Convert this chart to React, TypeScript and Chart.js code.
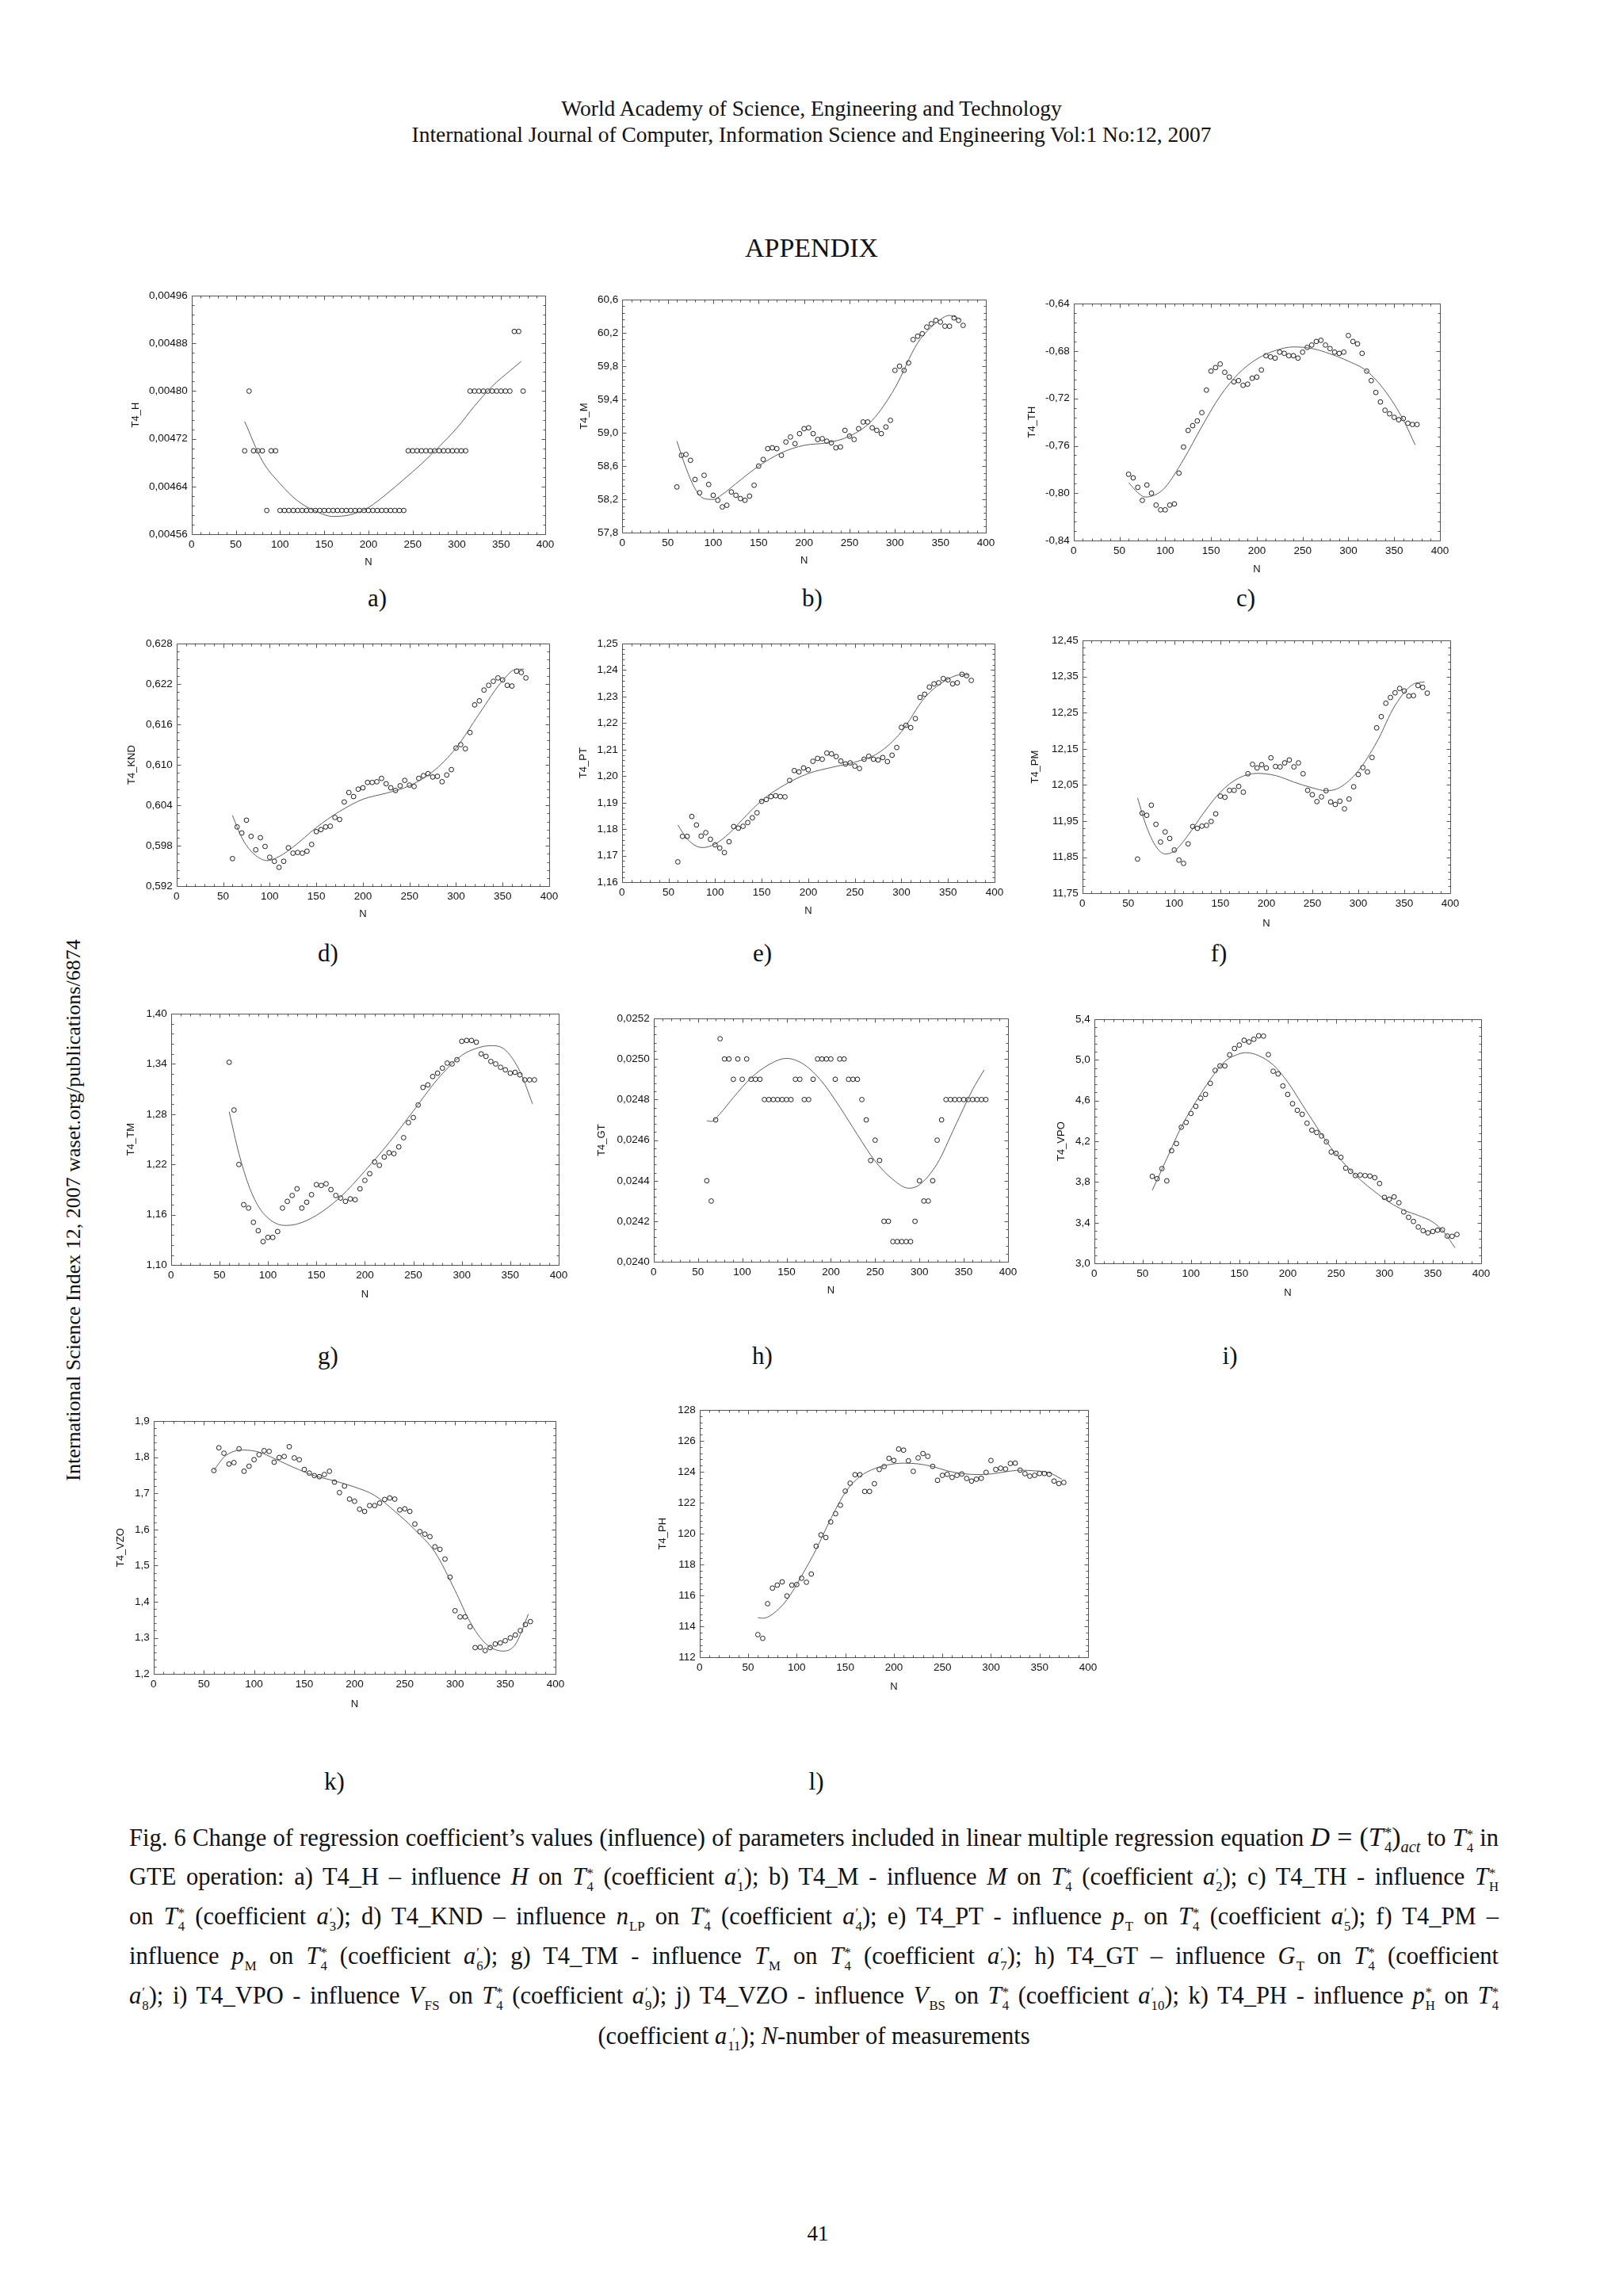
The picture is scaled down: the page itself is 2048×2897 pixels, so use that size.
import React, { useEffect, useRef } from 'react';
import { Chart, registerables } from 'chart.js';

Chart.register(...registerables);

// ---------------- data ----------------
const N_VALUES = [60, 65, 70, 75, 80, 85, 90, 95, 100, 105, 110, 115, 120, 125, 130, 135, 140, 145, 150, 155, 160, 165, 170, 175, 180, 185, 190, 195, 200, 205, 210, 215, 220, 225, 230, 235, 240, 245, 250, 255, 260, 265, 270, 275, 280, 285, 290, 295, 300, 305, 310, 315, 320, 325, 330, 335, 340, 345, 350, 355, 360, 365, 370, 375];
const X_TICKS = [0, 50, 100, 150, 200, 250, 300, 350, 400];

const A_TICKS = [0.00456, 0.00464, 0.00472, 0.0048, 0.00488, 0.00496];
const A_Y = [0.0047, 0.0048, 0.0047, 0.0047, 0.0047, 0.0046, 0.0047, 0.0047,
  0.0046, 0.0046, 0.0046, 0.0046, 0.0046, 0.0046, 0.0046, 0.0046, 0.0046, 0.0046, 0.0046, 0.0046, 0.0046, 0.0046, 0.0046, 0.0046, 0.0046, 0.0046, 0.0046, 0.0046, 0.0046, 0.0046, 0.0046, 0.0046, 0.0046, 0.0046, 0.0046, 0.0046, 0.0046,
  0.0047, 0.0047, 0.0047, 0.0047, 0.0047, 0.0047, 0.0047, 0.0047, 0.0047, 0.0047, 0.0047, 0.0047, 0.0047, 0.0047,
  0.0048, 0.0048, 0.0048, 0.0048, 0.0048, 0.0048, 0.0048, 0.0048, 0.0048, 0.0048,
  0.0049, 0.0049, 0.0048];
const A_CX = [60, 80, 100, 120, 140, 160, 180, 200, 220, 240, 260, 280, 300, 320, 340, 360, 373];
const A_CY = [0.004749, 0.004683, 0.004645, 0.004616, 0.004599, 0.00459, 0.004593, 0.004605, 0.004627, 0.004652, 0.004678, 0.004707, 0.004738, 0.004775, 0.004808, 0.004834, 0.00485];

const B_TICKS = [57.8, 58.2, 58.6, 59.0, 59.4, 59.8, 60.2, 60.6];
const B_Y = [58.35, 58.73, 58.74, 58.67, 58.44, 58.28, 58.49, 58.38, 58.25, 58.19, 58.11, 58.13, 58.29, 58.25, 58.21, 58.19, 58.24, 58.37, 58.6, 58.68, 58.81, 58.82, 58.81, 58.73, 58.89, 58.95, 58.87, 58.99, 59.05, 59.06, 58.99, 58.92, 58.93, 58.9, 58.88, 58.82, 58.83, 59.03, 58.96, 58.92, 59.05, 59.13, 59.13, 59.06, 59.03, 58.99, 59.07, 59.15, 59.75, 59.8, 59.75, 59.84, 60.12, 60.16, 60.19, 60.27, 60.31, 60.35, 60.33, 60.28, 60.28, 60.38, 60.35, 60.29];
const B_CX = [60, 70, 80, 90, 100, 110, 125, 150, 175, 200, 225, 250, 275, 300, 325, 350, 360, 373];
const B_CY = [58.9, 58.58, 58.33, 58.21, 58.2, 58.26, 58.39, 58.6, 58.76, 58.85, 58.88, 58.96, 59.15, 59.54, 60.08, 60.36, 60.41, 60.36];

const C_TICKS = [-0.84, -0.8, -0.76, -0.72, -0.68, -0.64];
const C_Y = [-0.784, -0.787, -0.795, -0.806, -0.793, -0.8, -0.81, -0.814, -0.814, -0.81, -0.809,
  -0.783, -0.761, -0.747, -0.743, -0.739, -0.732, -0.713, -0.697, -0.694, -0.691, -0.698, -0.702, -0.706,
  -0.705, -0.709, -0.708, -0.703, -0.702, -0.696, -0.684, -0.685, -0.686, -0.681, -0.682, -0.684, -0.684,
  -0.686, -0.681, -0.677, -0.675, -0.672, -0.671, -0.675, -0.678, -0.681, -0.682, -0.681, -0.667, -0.672,
  -0.674, -0.682, -0.697, -0.705, -0.715, -0.723, -0.73, -0.733, -0.736, -0.738, -0.737, -0.741, -0.742, -0.742];
const C_CX = [60, 70, 78, 90, 100, 120, 140, 160, 180, 200, 220, 240, 260, 280, 300, 320, 340, 360, 373];
const C_CY = [-0.791, -0.7994, -0.8032, -0.801, -0.795, -0.7716, -0.7437, -0.718, -0.6991, -0.6868, -0.6797, -0.6766, -0.6779, -0.6824, -0.6886, -0.6969, -0.7136, -0.7381, -0.7593];

const D_TICKS = [0.592, 0.598, 0.604, 0.61, 0.616, 0.622, 0.628];
const D_Y = [0.5961, 0.6008, 0.5999, 0.6018, 0.5994, 0.5974, 0.5992, 0.5979, 0.5963, 0.5957, 0.5948,
  0.5957, 0.5977, 0.5969, 0.597, 0.5969, 0.5972, 0.5982, 0.6001, 0.6004, 0.6008, 0.6009, 0.6022, 0.6019,
  0.6045, 0.6059, 0.6053, 0.6064, 0.6066, 0.6074, 0.6074, 0.6075, 0.608, 0.6072, 0.6066, 0.6062, 0.6069,
  0.6077, 0.607, 0.6068, 0.608, 0.6084, 0.6087, 0.6082, 0.6083, 0.6075, 0.6085, 0.6093, 0.6125, 0.613,
  0.6124, 0.6148, 0.6189, 0.6195, 0.6211, 0.6218, 0.6224, 0.6229, 0.6226, 0.6218, 0.6217, 0.6239, 0.6237, 0.6229];
const D_CX = [60, 70, 80, 90, 97, 110, 125, 150, 175, 200, 225, 250, 275, 300, 325, 350, 365, 373];
const D_CY = [0.6025, 0.5992, 0.5972, 0.5961, 0.5958, 0.5964, 0.5978, 0.6007, 0.6031, 0.6049, 0.6058, 0.6069, 0.609, 0.6125, 0.6176, 0.6225, 0.6242, 0.6242];

const E_TICKS = [1.16, 1.17, 1.18, 1.19, 1.2, 1.21, 1.22, 1.23, 1.24, 1.25];
const E_Y = [1.1677, 1.1773, 1.1773, 1.1848, 1.1816, 1.1774, 1.1787, 1.1762, 1.1741, 1.1729, 1.1712,
  1.1753, 1.181, 1.1804, 1.1811, 1.1825, 1.1843, 1.1862, 1.1905, 1.1912, 1.1923, 1.1926, 1.1923, 1.1922,
  1.1984, 1.2021, 1.2016, 1.2031, 1.2024, 1.2056, 1.2067, 1.2064, 1.2087, 1.2084, 1.2074, 1.2057, 1.2046,
  1.205, 1.2038, 1.2029, 1.2064, 1.2075, 1.2064, 1.2061, 1.207, 1.2055, 1.2079, 1.2108, 1.2184, 1.2192,
  1.2183, 1.2217, 1.2297, 1.2309, 1.2336, 1.2348, 1.2352, 1.2368, 1.2363, 1.2348, 1.2352, 1.2384, 1.2379, 1.2361];
const E_CX = [60, 70, 80, 87, 100, 115, 130, 150, 175, 200, 225, 250, 275, 300, 325, 350, 365, 373];
const E_CY = [1.1816, 1.1764, 1.1736, 1.1731, 1.1744, 1.1784, 1.1839, 1.1908, 1.1968, 1.201, 1.2033, 1.2053, 1.2087, 1.2167, 1.2296, 1.2366, 1.2383, 1.2381];

const F_TICKS = [11.75, 11.85, 11.95, 12.05, 12.15, 12.25, 12.35, 12.45];
const F_Y = [11.845, 11.972, 11.966, 11.994, 11.941, 11.892, 11.92, 11.902, 11.87, 11.842, 11.833,
  11.887, 11.935, 11.93, 11.936, 11.938, 11.949, 11.97, 12.019, 12.016, 12.035, 12.035, 12.046, 12.03,
  12.081, 12.107, 12.097, 12.106, 12.097, 12.125, 12.101, 12.1, 12.111, 12.119, 12.1, 12.111, 12.081,
  12.035, 12.023, 12.004, 12.017, 12.034, 12.003, 11.996, 12.005, 11.984, 12.011, 12.045, 12.079, 12.098,
  12.086, 12.126, 12.208, 12.239, 12.276, 12.292, 12.305, 12.317, 12.31, 12.296, 12.297, 12.325, 12.32, 12.304];
const F_CX = [60, 70, 80, 90, 100, 115, 130, 150, 170, 190, 210, 230, 250, 265, 280, 300, 320, 340, 360, 372];
const F_CY = [12.014, 11.933, 11.88, 11.859, 11.867, 11.911, 11.966, 12.03, 12.069, 12.082, 12.076, 12.058, 12.042, 12.034, 12.043, 12.089, 12.168, 12.27, 12.329, 12.335];

const G_TICKS = [1.1, 1.16, 1.22, 1.28, 1.34, 1.4];
const G_Y = [1.342, 1.285, 1.22, 1.172, 1.168, 1.151, 1.141, 1.128, 1.133, 1.133, 1.14,
  1.168, 1.176, 1.183, 1.191, 1.168, 1.175, 1.184, 1.196, 1.195, 1.197, 1.19, 1.183, 1.18,
  1.176, 1.179, 1.178, 1.191, 1.201, 1.209, 1.223, 1.219, 1.229, 1.234, 1.233, 1.241, 1.252,
  1.27, 1.276, 1.291, 1.312, 1.315, 1.325, 1.329, 1.335, 1.341, 1.34, 1.345, 1.367, 1.368,
  1.368, 1.366, 1.352, 1.349, 1.343, 1.34, 1.336, 1.333, 1.329, 1.33, 1.327, 1.321, 1.321, 1.321];
const G_CX = [60, 70, 80, 90, 100, 110, 118, 130, 150, 175, 200, 225, 250, 275, 300, 320, 332, 345, 360, 373];
const G_CY = [1.283, 1.2334, 1.1956, 1.1703, 1.1562, 1.1489, 1.1473, 1.1489, 1.1593, 1.1814, 1.2123, 1.2461, 1.2839, 1.3218, 1.3502, 1.3603, 1.3618, 1.3565, 1.3312, 1.2924];

const H_TICKS = [0.024, 0.0242, 0.0244, 0.0246, 0.0248, 0.025, 0.0252];
const H_Y = [0.0244, 0.0243, 0.0247, 0.0251, 0.025, 0.025, 0.0249, 0.025, 0.0249, 0.025, 0.0249,
  0.0249, 0.0249, 0.0248, 0.0248, 0.0248, 0.0248, 0.0248, 0.0248, 0.0248, 0.0249, 0.0249, 0.0248, 0.0248,
  0.0249, 0.025, 0.025, 0.025, 0.025, 0.0249, 0.025, 0.025, 0.0249, 0.0249, 0.0249, 0.0248, 0.0247,
  0.0245, 0.0246, 0.0245, 0.0242, 0.0242, 0.0241, 0.0241, 0.0241, 0.0241, 0.0241, 0.0242, 0.0244, 0.0243,
  0.0243, 0.0244, 0.0246, 0.0247, 0.0248, 0.0248, 0.0248, 0.0248, 0.0248, 0.0248, 0.0248, 0.0248, 0.0248, 0.0248];
const H_CX = [60, 65, 75, 90, 110, 130, 150, 170, 190, 210, 230, 250, 270, 288, 300, 320, 340, 360, 373];
const H_CY = [0.024696, 0.024692, 0.024731, 0.02481, 0.024907, 0.024972, 0.025003, 0.024972, 0.024888, 0.024764, 0.024627, 0.024497, 0.024406, 0.024363, 0.02438, 0.024484, 0.024666, 0.024849, 0.024946];

const I_TICKS = [3.0, 3.4, 3.8, 4.2, 4.6, 5.0, 5.4];
const I_Y = [3.856, 3.833, 3.932, 3.812, 4.108, 4.178, 4.339, 4.386, 4.474, 4.544, 4.624,
  4.661, 4.77, 4.897, 4.941, 4.941, 5.05, 5.112, 5.146, 5.193, 5.177, 5.203, 5.237, 5.234,
  5.052, 4.889, 4.863, 4.744, 4.661, 4.57, 4.505, 4.466, 4.378, 4.31, 4.287, 4.253, 4.196,
  4.095, 4.082, 4.043, 3.937, 3.906, 3.864, 3.869, 3.864, 3.859, 3.843, 3.786, 3.649, 3.631,
  3.654, 3.597, 3.506, 3.454, 3.413, 3.358, 3.322, 3.301, 3.314, 3.327, 3.33, 3.27, 3.267, 3.285];
const I_CX = [60, 75, 90, 105, 120, 135, 150, 157, 170, 185, 200, 215, 230, 245, 260, 275, 290, 305, 320, 335, 350, 362, 373];
const I_CY = [3.719, 4.03, 4.342, 4.588, 4.809, 4.985, 5.06, 5.071, 5.042, 4.951, 4.783, 4.562, 4.342, 4.134, 3.965, 3.823, 3.706, 3.602, 3.524, 3.472, 3.407, 3.304, 3.153];

const K_TICKS = [1.2, 1.3, 1.4, 1.5, 1.6, 1.7, 1.8, 1.9];
const K_Y = [1.763, 1.826, 1.811, 1.781, 1.785, 1.823, 1.761, 1.775, 1.793, 1.807, 1.818,
  1.816, 1.786, 1.799, 1.802, 1.829, 1.798, 1.793, 1.766, 1.756, 1.749, 1.746, 1.752, 1.761,
  1.731, 1.702, 1.72, 1.684, 1.678, 1.656, 1.65, 1.666, 1.666, 1.673, 1.683, 1.687, 1.684,
  1.654, 1.657, 1.65, 1.615, 1.594, 1.587, 1.58, 1.552, 1.545, 1.518, 1.468, 1.375, 1.358,
  1.358, 1.331, 1.273, 1.274, 1.265, 1.273, 1.283, 1.286, 1.292, 1.3, 1.308, 1.32, 1.337, 1.345];
const K_CX = [60, 70, 80, 90, 105, 120, 140, 160, 180, 200, 220, 240, 260, 280, 300, 315, 330, 348, 360, 373];
const K_CY = [1.7635, 1.8, 1.8161, 1.8197, 1.8139, 1.7964, 1.7708, 1.7489, 1.7343, 1.7175, 1.6942, 1.6504, 1.5993, 1.5372, 1.4314, 1.3438, 1.2854, 1.2635, 1.2818, 1.3657];

const L_TICKS = [112, 114, 116, 118, 120, 122, 124, 126, 128];
const L_Y = [113.47, 113.23, 115.47, 116.48, 116.67, 116.88, 115.97, 116.67, 116.71, 117.12, 116.86,
  117.39, 119.19, 119.92, 119.75, 120.76, 121.29, 121.84, 122.75, 123.26, 123.81, 123.81, 122.73, 122.73,
  123.23, 124.15, 124.34, 124.87, 124.73, 125.47, 125.4, 124.71, 124.03, 124.9, 125.18, 125.0, 124.35,
  123.45, 123.77, 123.84, 123.64, 123.77, 123.86, 123.57, 123.4, 123.52, 123.58, 123.96, 124.73, 124.15,
  124.23, 124.18, 124.54, 124.56, 124.11, 123.88, 123.72, 123.77, 123.89, 123.89, 123.84, 123.4, 123.24, 123.31];
const L_CX = [60, 65, 75, 90, 105, 120, 135, 150, 165, 180, 195, 210, 225, 240, 255, 270, 285, 300, 315, 330, 345, 360, 373];
const L_CY = [114.57, 114.53, 114.79, 115.73, 117.27, 118.98, 120.95, 122.66, 123.69, 124.2, 124.46, 124.56, 124.51, 124.34, 124.06, 123.89, 123.82, 123.86, 124.0, 124.1, 124.06, 123.94, 123.52];

// ---------------- layout / style ----------------
const SANS = '"Liberation Sans", Arial, Helvetica, sans-serif';
const SERIF = '"Liberation Serif", "Times New Roman", Times, serif';
const TICK_FONT = 13.5;
const TITLE_FONT = 13;
const PAD_T = 20;
const PAD_R = 30;

type Panel = {
  title: string; ticks: number[]; dec: number; ys: number[]; cx: number[]; cy: number[];
  rect: [number, number, number, number]; yOff: number; xOff: number;
};

const PANELS: Panel[] = [
  { title: 'T4_H', ticks: A_TICKS, dec: 5, ys: A_Y, cx: A_CX, cy: A_CY, rect: [242, 373, 688, 674], yOff: 70, xOff: 35 },
  { title: 'T4_M', ticks: B_TICKS, dec: 1, ys: B_Y, cx: B_CX, cy: B_CY, rect: [785, 378, 1244, 672], yOff: 47.5, xOff: 35 },
  { title: 'T4_TH', ticks: C_TICKS, dec: 2, ys: C_Y, cx: C_CX, cy: C_CY, rect: [1355, 383, 1817, 682], yOff: 52, xOff: 36 },
  { title: 'T4_KND', ticks: D_TICKS, dec: 3, ys: D_Y, cx: D_CX, cy: D_CY, rect: [223, 812, 693, 1118], yOff: 56, xOff: 35 },
  { title: 'T4_PT', ticks: E_TICKS, dec: 2, ys: E_Y, cx: E_CX, cy: E_CY, rect: [785, 812, 1255, 1113], yOff: 48, xOff: 36 },
  { title: 'T4_PM', ticks: F_TICKS, dec: 2, ys: F_Y, cx: F_CX, cy: F_CY, rect: [1366, 808, 1830, 1127], yOff: 59, xOff: 38 },
  { title: 'T4_TM', ticks: G_TICKS, dec: 2, ys: G_Y, cx: G_CX, cy: G_CY, rect: [216, 1279, 705, 1596], yOff: 50, xOff: 37 },
  { title: 'T4_GT', ticks: H_TICKS, dec: 4, ys: H_Y, cx: H_CX, cy: H_CY, rect: [825, 1285, 1272, 1592], yOff: 65, xOff: 36 },
  { title: 'T4_VPO', ticks: I_TICKS, dec: 1, ys: I_Y, cx: I_CX, cy: I_CY, rect: [1381, 1286, 1869, 1594], yOff: 41, xOff: 37 },
  { title: 'T4_VZO', ticks: K_TICKS, dec: 1, ys: K_Y, cx: K_CX, cy: K_CY, rect: [194, 1793, 701, 2112], yOff: 41, xOff: 38 },
  { title: 'T4_PH', ticks: L_TICKS, dec: 0, ys: L_Y, cx: L_CX, cy: L_CY, rect: [883, 1779, 1373, 2091], yOff: 46, xOff: 37 },
];

const SUB_LABELS: { t: string; x: number; y: number }[] = [
  { t: 'a)', x: 476, y: 755 }, { t: 'b)', x: 1025, y: 755 }, { t: 'c)', x: 1572, y: 755 },
  { t: 'd)', x: 414, y: 1203 }, { t: 'e)', x: 962, y: 1203 }, { t: 'f)', x: 1538, y: 1203 },
  { t: 'g)', x: 414, y: 1711 }, { t: 'h)', x: 962, y: 1711 }, { t: 'i)', x: 1552, y: 1711 },
  { t: 'k)', x: 422, y: 2248 }, { t: 'l)', x: 1030, y: 2248 },
];

const framePlugin = {
  id: 'frameTicks',
  afterDraw(chart: any) {
    const { ctx, chartArea: ca, scales } = chart;
    const xs = scales.x, ys = scales.y;
    const l = Math.round(ca.left) + 0.5, r = Math.round(ca.right) + 0.5;
    const t = Math.round(ca.top) + 0.5, b = Math.round(ca.bottom) + 0.5;
    ctx.save();
    ctx.strokeStyle = '#555';
    ctx.lineWidth = 1;
    ctx.beginPath();
    ctx.rect(l, t, r - l, b - t);
    ctx.stroke();
    ctx.beginPath();
    const xt = xs.ticks.map((k: any) => k.value);
    for (let i = 0; i < xt.length; i++) {
      const p = Math.round(xs.getPixelForValue(xt[i])) + 0.5;
      ctx.moveTo(p, b); ctx.lineTo(p, b - 5); ctx.moveTo(p, t); ctx.lineTo(p, t + 5);
      if (i < xt.length - 1) {
        for (let k = 1; k < 5; k++) {
          const q = Math.round(xs.getPixelForValue(xt[i] + (xt[i + 1] - xt[i]) * k / 5)) + 0.5;
          ctx.moveTo(q, b); ctx.lineTo(q, b - 3); ctx.moveTo(q, t); ctx.lineTo(q, t + 3);
        }
      }
    }
    const yt = ys.ticks.map((k: any) => k.value);
    for (let i = 0; i < yt.length; i++) {
      const p = Math.round(ys.getPixelForValue(yt[i])) + 0.5;
      ctx.moveTo(l, p); ctx.lineTo(l + 5, p); ctx.moveTo(r, p); ctx.lineTo(r - 5, p);
      if (i < yt.length - 1) {
        for (let k = 1; k < 5; k++) {
          const q = Math.round(ys.getPixelForValue(yt[i] + (yt[i + 1] - yt[i]) * k / 5)) + 0.5;
          ctx.moveTo(l, q); ctx.lineTo(l + 3, q); ctx.moveTo(r, q); ctx.lineTo(r - 3, q);
        }
      }
    }
    ctx.stroke();
    ctx.restore();
  },
};

function ScatterPanel({ p }: { p: Panel }) {
  const ref = useRef<HTMLCanvasElement>(null);
  const [L, T, R, B] = p.rect;
  const half = TITLE_FONT * 0.6;
  const yW = p.yOff + half;
  const xH = p.xOff + half;
  const w = Math.round(yW + (R - L) + PAD_R);
  const h = Math.round(PAD_T + (B - T) + xH);
  const left = L - yW;
  const top = T - PAD_T;

  useEffect(() => {
    if (!ref.current) return;
    const font = { family: SANS, size: TICK_FONT };
    const tfont = { family: SANS, size: TITLE_FONT };
    const chart = new Chart(ref.current, {
      type: 'scatter',
      data: {
        datasets: [
          {
            data: p.cx.map((x, i) => ({ x, y: p.cy[i] })),
            showLine: true,
            borderColor: '#5c5c5c',
            borderWidth: 1,
            pointRadius: 0,
            cubicInterpolationMode: 'monotone',
            fill: false,
          } as any,
          {
            data: N_VALUES.map((x, i) => ({ x, y: p.ys[i] })),
            pointStyle: 'circle',
            pointRadius: 2.9,
            borderWidth: 1,
            borderColor: '#1e1e1e',
            backgroundColor: 'rgba(255,255,255,0)',
            showLine: false,
          },
        ],
      },
      options: {
        responsive: false,
        animation: false,
        events: [],
        layout: { padding: { left: 0, top: PAD_T, right: PAD_R, bottom: 0 } },
        plugins: { legend: { display: false }, tooltip: { enabled: false } },
        scales: {
          x: {
            type: 'linear',
            min: X_TICKS[0],
            max: X_TICKS[X_TICKS.length - 1],
            afterBuildTicks: (s: any) => { s.ticks = X_TICKS.map((v) => ({ value: v })); },
            afterFit: (s: any) => { s.height = xH; },
            grid: { display: false, drawTicks: false },
            border: { display: false },
            ticks: { padding: 5, color: '#111', font, maxRotation: 0, autoSkip: false, callback: (v: any) => String(v) },
            title: { display: true, text: 'N', padding: 0, color: '#111', font: tfont },
          },
          y: {
            type: 'linear',
            min: p.ticks[0],
            max: p.ticks[p.ticks.length - 1],
            afterBuildTicks: (s: any) => { s.ticks = p.ticks.map((v) => ({ value: v })); },
            afterFit: (s: any) => { s.width = yW; },
            grid: { display: false, drawTicks: false },
            border: { display: false },
            ticks: { padding: 5, color: '#111', font, autoSkip: false, callback: (v: any) => Number(v).toFixed(p.dec).replace('.', ',') },
            title: { display: true, text: p.title, padding: 0, color: '#111', font: tfont },
          },
        },
      },
      plugins: [framePlugin],
    } as any);
    return () => chart.destroy();
  }, []);

  return (
    <canvas ref={ref} width={w} height={h}
      style={{ position: 'absolute', left, top, width: w, height: h }} />
  );
}

function Sym({ b, sup, sub }: { b: string; sup?: string; sub?: string }) {
  return (
    <span style={{ whiteSpace: 'nowrap' }}>
      <i>{b}</i>
      <span style={{ display: 'inline-block', verticalAlign: '-0.45em', lineHeight: 1, fontSize: '0.55em', marginLeft: '0.06em', textAlign: 'left' }}>
        <span style={{ display: 'block' }}>{sup || '\u00a0'}</span>
        <span style={{ display: 'block' }}>{sub || '\u00a0'}</span>
      </span>
    </span>
  );
}
const T4 = () => <Sym b="T" sup="*" sub="4" />;
const Ac = ({ n }: { n: string }) => <Sym b="a" sup="′" sub={n} />;

const CAP_LEFT = 163;
const CAP_WIDTH = 1728;
const CAP_FONT = 30.5;

function CapLine({ top, children, center }: { top: number; children: React.ReactNode; center?: boolean }) {
  return (
    <div style={{
      position: 'absolute', left: CAP_LEFT, top, width: CAP_WIDTH, height: 50, lineHeight: '50px',
      fontFamily: SERIF, fontSize: CAP_FONT, color: '#111', whiteSpace: 'nowrap',
      textAlign: center ? 'center' : 'justify', textAlignLast: center ? 'center' : 'justify',
    } as any}>{children}</div>
  );
}

export default function App() {
  return (
    <div style={{ position: 'absolute', left: 0, top: 0, width: 2048, height: 2897, background: '#fff', overflow: 'hidden' }}>
      <div style={{ position: 'absolute', left: 0, width: 2048, top: 121, lineHeight: '32px', fontFamily: SERIF, fontSize: 27.5, textAlign: 'center', color: '#111' }}>
        World Academy of Science, Engineering and Technology
      </div>
      <div style={{ position: 'absolute', left: 0, width: 2048, top: 154, lineHeight: '32px', fontFamily: SERIF, fontSize: 27.5, textAlign: 'center', color: '#111' }}>
        International Journal of Computer, Information Science and Engineering Vol:1 No:12, 2007
      </div>
      <div style={{ position: 'absolute', left: 0, width: 2048, top: 293, lineHeight: '40px', fontFamily: SERIF, fontSize: 34, textAlign: 'center', color: '#111' }}>
        APPENDIX
      </div>
      <div style={{ position: 'absolute', left: 93 - 400, top: 1527 - 16, width: 800, height: 32, lineHeight: '32px', fontFamily: SERIF, fontSize: 26, textAlign: 'center', color: '#111', transform: 'rotate(-90deg)', whiteSpace: 'nowrap' }}>
        International Science Index 12, 2007 waset.org/publications/6874
      </div>

      {PANELS.map((p, i) => <ScatterPanel key={i} p={p} />)}

      {SUB_LABELS.map((s, i) => (
        <div key={i} style={{ position: 'absolute', left: s.x - 40, top: s.y - 19, width: 80, lineHeight: '38px', textAlign: 'center', fontFamily: SERIF, fontSize: 31, color: '#111' }}>{s.t}</div>
      ))}

      <CapLine top={2293}>Fig. 6 Change of regression coefficient’s values (influence) of parameters included in linear multiple regression equation <span style={{ fontSize: 34 }}><i>D</i> = (<Sym b="T" sup="*" sub="4" />)<sub style={{ fontSize: '0.6em' }}><i>act</i></sub></span> to <T4 /> in</CapLine>
      <CapLine top={2343}>GTE operation: a) T4_H – influence <i>H</i> on <T4 /> (coefficient <Ac n="1" />); b) T4_M - influence <i>M</i> on <T4 /> (coefficient <Ac n="2" />); c) T4_TH - influence <Sym b="T" sup="*" sub="H" /></CapLine>
      <CapLine top={2393}>on <T4 /> (coefficient <Ac n="3" />); d) T4_KND – influence <Sym b="n" sub="LP" /> on <T4 /> (coefficient <Ac n="4" />); e) T4_PT - influence <Sym b="p" sub="T" /> on <T4 /> (coefficient <Ac n="5" />); f) T4_PM –</CapLine>
      <CapLine top={2443}>influence <Sym b="p" sub="M" /> on <T4 /> (coefficient <Ac n="6" />); g) T4_TM - influence <Sym b="T" sub="M" /> on <T4 /> (coefficient <Ac n="7" />); h) T4_GT – influence <Sym b="G" sub="T" /> on <T4 /> (coefficient</CapLine>
      <CapLine top={2493}><Ac n="8" />); i) T4_VPO - influence <Sym b="V" sub="FS" /> on <T4 /> (coefficient <Ac n="9" />); j) T4_VZO - influence <Sym b="V" sub="BS" /> on <T4 /> (coefficient <Ac n="10" />); k) T4_PH - influence <Sym b="p" sup="*" sub="H" /> on <T4 /></CapLine>
      <CapLine top={2544} center>(coefficient <Ac n="11" />); <i>N</i>-number of measurements</CapLine>

      <div style={{ position: 'absolute', left: 0, width: 2064, top: 2802, lineHeight: '32px', fontFamily: SERIF, fontSize: 27, textAlign: 'center', color: '#111' }}>41</div>
    </div>
  );
}
